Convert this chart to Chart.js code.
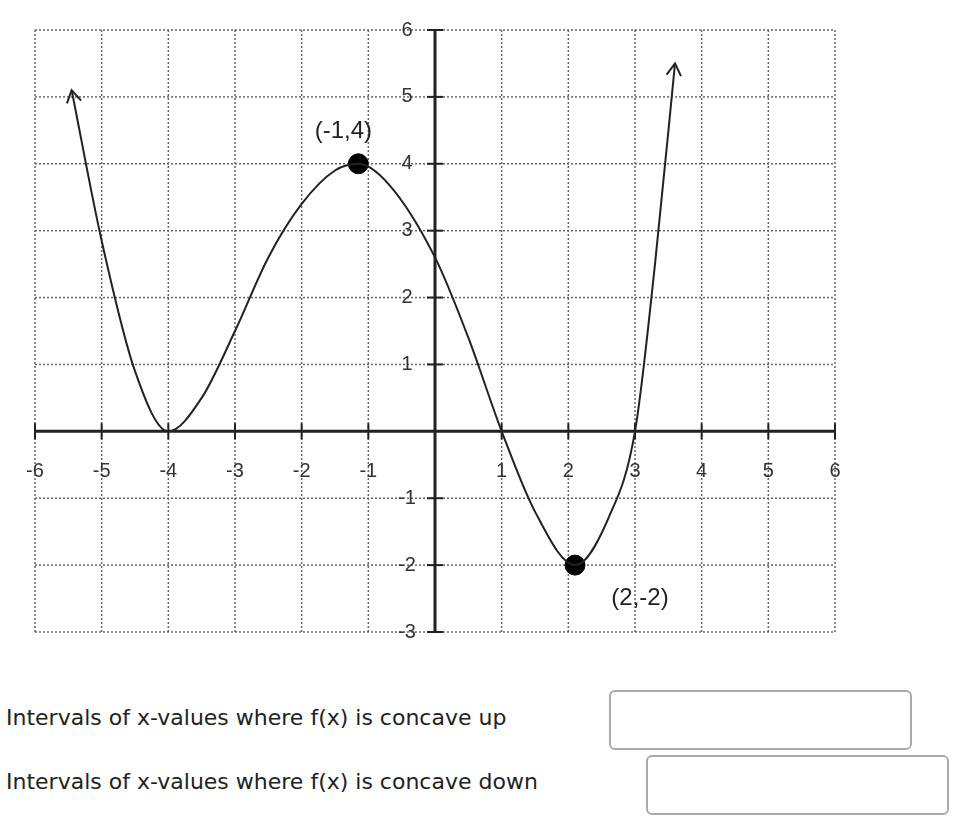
<!DOCTYPE html>
<html><head><meta charset="utf-8">
<script src="https://cdn.jsdelivr.net/npm/chart.js@4"></script>
<style>
body{margin:0;background:#fff;width:972px;height:836px;position:relative;font-family:"DejaVu Sans",sans-serif;overflow:hidden}
#wrap{position:absolute;left:0;top:0;width:860px;height:660px}
.q{position:absolute;font-size:22px;color:#222;white-space:nowrap}
.box{position:absolute;border:2px solid #aaa;border-radius:6px;background:#fff}
</style></head><body>
<div id="wrap"><canvas id="c" width="860" height="660"></canvas></div>
<div class="q" style="left:6px;top:705px">Intervals of x-values where f(x) is concave up</div>
<div class="box" style="left:609px;top:690px;width:299px;height:56px"></div>
<div class="q" style="left:6px;top:769px">Intervals of x-values where f(x) is concave down</div>
<div class="box" style="left:646px;top:755px;width:299px;height:56px"></div>
<script>
const curveX = [-5.45,-5,-4.5,-4,-3.5,-3,-2.5,-2,-1.5,-1.15,-0.7,0,0.5,1,1.5,2.1,2.6,3,3.3,3.6];
const curveY = [5.1,2.85,0.9,0,0.5,1.5,2.6,3.4,3.9,4,3.7,2.6,1.4,0,-1.2,-2,-1.3,0,2.5,5.5];
const pointX = [-1.15,2.1];
const pointY = [4,-2];
const pointLabels = ["(-1,4)","(2,-2)"];
const xTicks = [-6,-5,-4,-3,-2,-1,1,2,3,4,5,6];
const yTicks = [6,5,4,3,2,1,-1,-2,-3];

const decor = {
  id:'decor',
  beforeDatasetsDraw(ch){
    const c=ch.ctx,x=ch.scales.x,y=ch.scales.y;
    c.save();
    c.strokeStyle='#666';c.lineWidth=1.5;c.setLineDash([2,2]);
    for(let i=-6;i<=6;i++){const p=x.getPixelForValue(i);c.beginPath();c.moveTo(p,y.getPixelForValue(6));c.lineTo(p,y.getPixelForValue(-3));c.stroke();}
    for(let j=-3;j<=6;j++){const p=y.getPixelForValue(j);c.beginPath();c.moveTo(x.getPixelForValue(-6),p);c.lineTo(x.getPixelForValue(6),p);c.stroke();}
    c.setLineDash([]);c.strokeStyle='#222';c.lineWidth=3;
    const x0=x.getPixelForValue(0),y0=y.getPixelForValue(0);
    c.beginPath();c.moveTo(x0,y.getPixelForValue(6));c.lineTo(x0,y.getPixelForValue(-3));c.stroke();
    c.beginPath();c.moveTo(x.getPixelForValue(-6),y0);c.lineTo(x.getPixelForValue(6),y0);c.stroke();
    c.lineWidth=2;c.fillStyle='#333';c.font='20px "Liberation Sans"';c.textAlign='center';c.textBaseline='middle';
    xTicks.forEach(v=>{const p=x.getPixelForValue(v);c.beginPath();c.moveTo(p,y0-8);c.lineTo(p,y0+8);c.stroke();c.fillText(String(v),p,y0+40);});
    yTicks.forEach(v=>{const p=y.getPixelForValue(v);c.beginPath();c.moveTo(x0-8,p);c.lineTo(x0+8,p);c.stroke();c.fillText(String(v),x0-28,p);});
    c.restore();
  },
  afterDatasetsDraw(ch){
    const c=ch.ctx,x=ch.scales.x,y=ch.scales.y;
    c.save();c.strokeStyle='#222';c.lineWidth=2;
    const arrow=(i,j)=>{const ax=x.getPixelForValue(curveX[i]),ay=y.getPixelForValue(curveY[i]);
      const bx=x.getPixelForValue(curveX[j]),by=y.getPixelForValue(curveY[j]);
      const a=Math.atan2(ay-by,ax-bx);c.beginPath();
      c.moveTo(ax+14*Math.cos(a+2.6),ay+14*Math.sin(a+2.6));c.lineTo(ax,ay);c.lineTo(ax+14*Math.cos(a-2.6),ay+14*Math.sin(a-2.6));c.stroke();};
    arrow(0,1);arrow(curveX.length-1,curveX.length-2);
    c.fillStyle='#222';c.font='24px "Liberation Sans"';c.textAlign='center';c.textBaseline='middle';
    c.fillText(pointLabels[0],x.getPixelForValue(pointX[0])-15,y.getPixelForValue(pointY[0])-32);
    c.fillText(pointLabels[1],x.getPixelForValue(pointX[1])+65,y.getPixelForValue(pointY[1])+33);
    c.restore();
  }
};

new Chart(document.getElementById('c'),{
  type:'scatter',
  data:{datasets:[
    {data:curveX.map((v,i)=>({x:v,y:curveY[i]})),showLine:true,borderColor:'#222',borderWidth:2,pointRadius:0,tension:0.4,cubicInterpolationMode:'monotone'},
    {data:pointX.map((v,i)=>({x:v,y:pointY[i]})),pointRadius:10,backgroundColor:'#000',borderColor:'#000'}
  ]},
  options:{responsive:false,animation:false,
    layout:{padding:{left:35,right:25,top:30,bottom:28}},
    plugins:{legend:{display:false},tooltip:{enabled:false}},
    scales:{x:{type:'linear',min:-6,max:6,display:false},y:{type:'linear',min:-3,max:6,display:false}}},
  plugins:[decor]
});
</script></body></html>
